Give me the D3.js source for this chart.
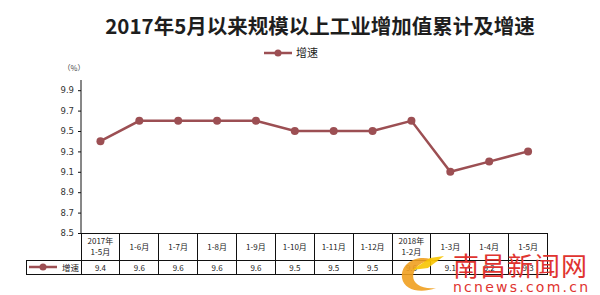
<!DOCTYPE html>
<html>
<head>
<meta charset="utf-8">
<script src="https://cdn.jsdelivr.net/npm/d3@7"></script>
<style>
  body { margin: 0; background: #fff; }
  svg { display: block; font-family: "Noto Sans CJK SC", "DejaVu Sans", sans-serif; }
</style>
</head>
<body>
<div class="graph"></div>
<script>
var categories = [
  ['2017年', '1-5月'], ['1-6月'], ['1-7月'], ['1-8月'], ['1-9月'], ['1-10月'],
  ['1-11月'], ['1-12月'], ['2018年', '1-2月'], ['1-3月'], ['1-4月'], ['1-5月']
];
var growth = [9.4, 9.6, 9.6, 9.6, 9.6, 9.5, 9.5, 9.5, 9.6, 9.1, 9.2, 9.3];
var yTicks = [8.5, 8.7, 8.9, 9.1, 9.3, 9.5, 9.7, 9.9];
var seriesName = '增速';
var title = '2017年5月以来规模以上工业增加值累计及增速';

var lineColor = '#9c4f53';

var svg = d3.select('.graph')
  .append('svg')
  .attr('width', 600)
  .attr('height', 295);

var x = d3.scaleBand()
  .domain(d3.range(categories.length))
  .range([81, 547.5]);

var y = d3.scaleLinear()
  .domain([8.5, 10])
  .range([233, 80]);

// title
svg.append('text')
  .attr('x', 320)
  .attr('y', 34)
  .attr('text-anchor', 'middle')
  .attr('font-size', 20.5)
  .attr('font-weight', 'bold')
  .attr('fill', '#1e1e1e')
  .text(title);

// legend on top
var lg = svg.append('g').attr('transform', 'translate(264, 53)');
lg.append('line').attr('x1', 0).attr('x2', 28).attr('stroke', lineColor).attr('stroke-width', 2.5);
lg.append('circle').attr('cx', 14).attr('r', 3.5).attr('fill', lineColor);
lg.append('text').attr('x', 32).attr('y', 4).attr('font-size', 11).attr('fill', '#222').text(seriesName);

// unit
svg.append('text')
  .attr('x', 63).attr('y', 71)
  .attr('font-size', 7.5).attr('fill', '#444')
  .text('（%）');

// y axis
var yAxis = d3.axisLeft(y)
  .tickValues(yTicks)
  .tickSize(3)
  .tickFormat(function (d) { return d.toFixed(1); });

var yg = svg.append('g')
  .attr('transform', 'translate(81,0)')
  .call(yAxis);
yg.select('.domain').attr('stroke', '#111').attr('d', 'M0,80V233');
yg.selectAll('.tick line').attr('stroke', '#111');
yg.selectAll('.tick text')
  .attr('font-size', 8.5)
  .attr('fill', '#333')
  .attr('x', -7)
  .attr('font-family', '"DejaVu Sans", sans-serif');

// line + points
var line = d3.line()
  .x(function (d, i) { return x(i) + x.bandwidth() / 2; })
  .y(function (d) { return y(d); });

svg.append('path')
  .datum(growth)
  .attr('d', line)
  .attr('fill', 'none')
  .attr('stroke', lineColor)
  .attr('stroke-width', 2.5);

svg.selectAll('circle.pt')
  .data(growth)
  .enter()
  .append('circle')
  .attr('class', 'pt')
  .attr('cx', function (d, i) { return x(i) + x.bandwidth() / 2; })
  .attr('cy', function (d) { return y(d); })
  .attr('r', 4)
  .attr('fill', lineColor);

// data table
var tTop = 233, tMid = 260, tBot = 274, tLeft = 26;
var grid = svg.append('g').attr('stroke', '#111').attr('stroke-width', 1).attr('shape-rendering', 'crispEdges');
grid.append('line').attr('x1', 81).attr('x2', 547.5).attr('y1', tTop).attr('y2', tTop);
grid.append('line').attr('x1', tLeft).attr('x2', 547.5).attr('y1', tMid).attr('y2', tMid);
grid.append('line').attr('x1', tLeft).attr('x2', 547.5).attr('y1', tBot).attr('y2', tBot);
grid.append('line').attr('x1', tLeft).attr('x2', tLeft).attr('y1', tMid).attr('y2', tBot);
grid.selectAll('line.v')
  .data(d3.range(categories.length + 1))
  .enter()
  .append('line')
  .attr('class', 'v')
  .attr('x1', function (i) { return i < categories.length ? x(i) : x.range()[1]; })
  .attr('x2', function (i) { return i < categories.length ? x(i) : x.range()[1]; })
  .attr('y1', tTop).attr('y2', tBot);

var header = svg.selectAll('text.hdr')
  .data(categories)
  .enter()
  .append('text')
  .attr('class', 'hdr')
  .attr('text-anchor', 'middle')
  .attr('font-size', 8)
  .attr('fill', '#222');
header.each(function (d, i) {
  var t = d3.select(this);
  var cx = x(i) + x.bandwidth() / 2;
  var y0 = d.length > 1 ? 244 : 250;
  d.forEach(function (s, k) {
    t.append('tspan').attr('x', cx).attr('y', y0 + k * 11).text(s);
  });
});

svg.selectAll('text.val')
  .data(growth)
  .enter()
  .append('text')
  .attr('class', 'val')
  .attr('x', function (d, i) { return x(i) + x.bandwidth() / 2; })
  .attr('y', 270.5)
  .attr('text-anchor', 'middle')
  .attr('font-size', 8)
  .attr('fill', '#222')
  .text(function (d) { return d.toFixed(1); });

// legend cell of the table
var tl = svg.append('g').attr('transform', 'translate(29, 267)');
tl.append('line').attr('x1', 0).attr('x2', 28).attr('stroke', lineColor).attr('stroke-width', 2.5);
tl.append('circle').attr('cx', 14).attr('r', 3.5).attr('fill', lineColor);
tl.append('text').attr('x', 33).attr('y', 3.5).attr('font-size', 8.5).attr('fill', '#222').text(seriesName);

// watermark
var wm = svg.append('g');
wm.append('path')
  .attr('d', 'M438,262 C420,252 400,262 402,278 C404,290 420,294 436,288 C420,290 410,282 414,272 C418,262 428,260 438,262 Z')
  .attr('fill', '#f0a020').attr('opacity', 0.9);
wm.append('path')
  .attr('d', 'M412,270 L430,258 L444,256 L428,268 Z')
  .attr('fill', '#f7c400').attr('opacity', 0.9);
wm.append('text')
  .attr('x', 453).attr('y', 276)
  .attr('font-size', 26).attr('fill', '#e03430')
  .attr('textLength', 134)
  .text('南昌新闻网');
wm.append('text')
  .attr('x', 453).attr('y', 292)
  .attr('font-size', 14).attr('fill', '#e03430')
  .attr('font-family', '"DejaVu Sans", sans-serif')
  .attr('textLength', 135)
  .text('ncnews.com.cn');
</script>
</body>
</html>
